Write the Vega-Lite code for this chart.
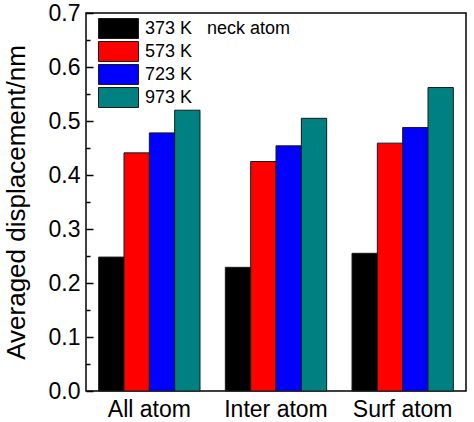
{
  "$schema": "https://vega.github.io/schema/vega-lite/v6.json",
  "width": 380,
  "height": 378,
  "autosize": {"type": "none"},
  "padding": {"left": 86, "top": 13, "right": 8, "bottom": 31},
  "background": "white",
  "config": {
    "font": "Liberation Sans",
    "view": {"stroke": "#000", "strokeWidth": 1.5},
    "axis": {"domainColor": "#000", "tickColor": "#000", "labelColor": "#000", "titleColor": "#000", "grid": false, "labelFont": "Liberation Sans", "titleFont": "Liberation Sans", "titleFontWeight": "normal"},
    "legend": {"labelFont": "Liberation Sans", "labelColor": "#000"}
  },
  "data": {
    "values": [
      {"group": "All atom", "temp": "373 K", "value": 0.248},
      {"group": "All atom", "temp": "573 K", "value": 0.441},
      {"group": "All atom", "temp": "723 K", "value": 0.478},
      {"group": "All atom", "temp": "973 K", "value": 0.520},
      {"group": "Inter atom", "temp": "373 K", "value": 0.229},
      {"group": "Inter atom", "temp": "573 K", "value": 0.425},
      {"group": "Inter atom", "temp": "723 K", "value": 0.454},
      {"group": "Inter atom", "temp": "973 K", "value": 0.505},
      {"group": "Surf atom", "temp": "373 K", "value": 0.255},
      {"group": "Surf atom", "temp": "573 K", "value": 0.459},
      {"group": "Surf atom", "temp": "723 K", "value": 0.488},
      {"group": "Surf atom", "temp": "973 K", "value": 0.562}
    ]
  },
  "layer": [
    {
      "mark": {"type": "bar", "stroke": "#1a1a1a", "strokeWidth": 1},
      "encoding": {
        "x": {"field": "group", "type": "nominal", "sort": ["All atom", "Inter atom", "Surf atom"], "scale": {"paddingInner": 0.2, "paddingOuter": 0.1}, "axis": {"title": null, "labelAngle": 0, "labelFontSize": 23, "ticks": false, "domain": false, "labelPadding": 7}},
        "xOffset": {"field": "temp", "type": "nominal", "sort": ["373 K", "573 K", "723 K", "973 K"]},
        "y": {"field": "value", "type": "quantitative", "scale": {"domain": [0, 0.7], "nice": false, "zero": true}, "axis": {"orient": "left", "title": "Averaged displacement/nm", "values": [0, 0.1, 0.2, 0.3, 0.4, 0.5, 0.6, 0.7], "format": ".1f", "tickSize": -7, "tickWidth": 1.5, "domain": false, "labelFontSize": 23, "titleFontSize": 26, "labelPadding": 13, "titlePadding": 19}},
        "color": {"field": "temp", "type": "nominal", "sort": ["373 K", "573 K", "723 K", "973 K"], "scale": {"domain": ["373 K", "573 K", "723 K", "973 K"], "range": ["#000000", "#ff0000", "#0000ff", "#008080"]},
          "legend": {"title": null, "orient": "none", "legendX": 22, "legendY": 5, "zindex": 1, "padding": 0, "rowPadding": -2.5, "symbolType": "M-2,-1H2V1H-2Z", "symbolSize": 400, "symbolStrokeColor": "#1a1a1a", "symbolStrokeWidth": 1, "symbolOpacity": 1, "labelFontSize": 18, "labelOffset": 16, "labelExpr": "datum.label == '373 K' ? '373 K\u00a0\u00a0\u00a0neck atom' : datum.label"}}
      }
    },
    {
      "mark": {"type": "bar", "opacity": 0},
      "encoding": {
        "x": {"field": "group", "type": "nominal", "sort": ["All atom", "Inter atom", "Surf atom"]},
        "xOffset": {"field": "temp", "type": "nominal", "sort": ["373 K", "573 K", "723 K", "973 K"]},
        "y": {"field": "value", "type": "quantitative", "axis": {"orient": "left", "title": null, "labels": false, "domain": false, "values": [0.05, 0.15, 0.25, 0.35, 0.45, 0.55, 0.65], "tickSize": -4, "tickWidth": 1.5}}
      }
    }
  ],
  "resolve": {"axis": {"y": "independent"}}
}
